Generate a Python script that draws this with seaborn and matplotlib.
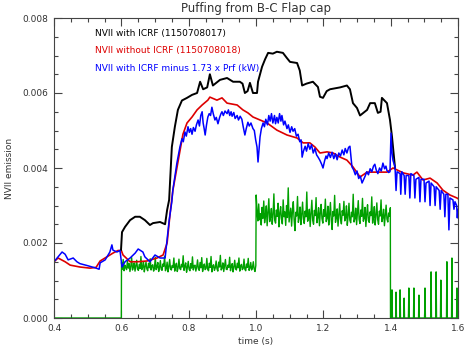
import numpy as np
import pandas as pd
import matplotlib
matplotlib.use("Agg")
import matplotlib.pyplot as plt
import seaborn as sns
from matplotlib.ticker import MultipleLocator, FormatStrFormatter

# ---------------- data ----------------
black_pts = [(0.599, 0.00181), (0.602, 0.00229), (0.611, 0.00243), (0.626, 0.00261),
             (0.641, 0.00270), (0.655, 0.00270), (0.670, 0.00261), (0.685, 0.00248),
             (0.694, 0.00253), (0.715, 0.00256), (0.730, 0.00250), (0.736, 0.00288),
             (0.742, 0.00315), (0.750, 0.00456), (0.759, 0.00510), (0.768, 0.00555),
             (0.780, 0.00580), (0.795, 0.00587), (0.810, 0.00595), (0.825, 0.00600),
             (0.834, 0.00630), (0.843, 0.00610), (0.855, 0.00615), (0.863, 0.00650),
             (0.872, 0.00620), (0.893, 0.00635), (0.914, 0.00640), (0.932, 0.00630),
             (0.952, 0.00630), (0.960, 0.00625), (0.967, 0.00600), (0.975, 0.00605),
             (0.982, 0.00627), (0.991, 0.00600), (1.003, 0.00600), (1.006, 0.00630),
             (1.018, 0.00670), (1.027, 0.00690), (1.036, 0.00707), (1.050, 0.00705),
             (1.062, 0.00710), (1.080, 0.00707), (1.092, 0.00693), (1.101, 0.00683),
             (1.122, 0.00680), (1.130, 0.00660), (1.137, 0.00620), (1.150, 0.00625),
             (1.169, 0.00630), (1.184, 0.00616), (1.190, 0.00590), (1.199, 0.00587),
             (1.210, 0.00605), (1.220, 0.00610), (1.250, 0.00615), (1.270, 0.00620),
             (1.279, 0.00610), (1.288, 0.00573), (1.300, 0.00560), (1.309, 0.00540),
             (1.330, 0.00555), (1.339, 0.00573), (1.353, 0.00573), (1.362, 0.00547),
             (1.370, 0.00550), (1.374, 0.00587), (1.389, 0.00573), (1.398, 0.00528),
             (1.404, 0.00483), (1.413, 0.00400)]

red_pts = [(0.400, 0.00150), (0.412, 0.00160), (0.433, 0.00150), (0.448, 0.00141),
           (0.477, 0.00136), (0.507, 0.00133), (0.525, 0.00135), (0.537, 0.00152),
           (0.557, 0.00163), (0.575, 0.00173), (0.590, 0.00180), (0.600, 0.00180),
           (0.605, 0.00168), (0.626, 0.00150), (0.647, 0.00150), (0.676, 0.00152),
           (0.706, 0.00160), (0.724, 0.00168), (0.736, 0.00200), (0.745, 0.00280),
           (0.753, 0.00340), (0.765, 0.00400), (0.774, 0.00445), (0.783, 0.00490),
           (0.795, 0.00520), (0.810, 0.00536), (0.825, 0.00555), (0.840, 0.00568),
           (0.857, 0.00581), (0.863, 0.00589), (0.884, 0.00581), (0.899, 0.00587),
           (0.914, 0.00573), (0.944, 0.00568), (0.961, 0.00555), (0.976, 0.00547),
           (0.991, 0.00536), (1.012, 0.00528), (1.033, 0.00520), (1.062, 0.00501),
           (1.092, 0.00488), (1.122, 0.00480), (1.140, 0.00467), (1.160, 0.00467),
           (1.175, 0.00456), (1.190, 0.00440), (1.211, 0.00443), (1.229, 0.00440),
           (1.250, 0.00429), (1.270, 0.00421), (1.288, 0.00403), (1.309, 0.00376),
           (1.330, 0.00389), (1.359, 0.00389), (1.389, 0.00389), (1.407, 0.00400),
           (1.437, 0.00387), (1.466, 0.00381), (1.478, 0.00389), (1.496, 0.00368),
           (1.517, 0.00373), (1.538, 0.00360), (1.555, 0.00341), (1.576, 0.00328),
           (1.597, 0.00320), (1.600, 0.00318)]

blue_pts = [(0.400, 0.00150), (0.412, 0.00163), (0.424, 0.00176), (0.433, 0.00170),
            (0.442, 0.00155), (0.457, 0.00160), (0.468, 0.00150), (0.477, 0.00145),
            (0.498, 0.00140), (0.513, 0.00136), (0.525, 0.00133), (0.534, 0.00130),
            (0.537, 0.00147), (0.552, 0.00155), (0.566, 0.00176), (0.572, 0.00195),
            (0.575, 0.00181), (0.587, 0.00176), (0.596, 0.00180), (0.602, 0.00136),
            (0.611, 0.00150), (0.626, 0.00160), (0.641, 0.00173), (0.650, 0.00184),
            (0.664, 0.00176), (0.670, 0.00163), (0.685, 0.00150), (0.700, 0.00168),
            (0.715, 0.00160), (0.730, 0.00160), (0.736, 0.00210), (0.742, 0.00260),
            (0.750, 0.00310), (0.753, 0.00341), (0.765, 0.00413), (0.774, 0.00456),
            (0.780, 0.00478), (0.784, 0.00470), (0.789, 0.00496), (0.793, 0.00485),
            (0.798, 0.00510), (0.802, 0.00495), (0.806, 0.00505), (0.810, 0.00490),
            (0.814, 0.00508), (0.819, 0.00498), (0.823, 0.00515), (0.828, 0.00528),
            (0.832, 0.00512), (0.836, 0.00540), (0.840, 0.00550), (0.843, 0.00520),
            (0.846, 0.00505), (0.849, 0.00488), (0.853, 0.00515), (0.857, 0.00536),
            (0.861, 0.00545), (0.865, 0.00540), (0.869, 0.00562), (0.873, 0.00545),
            (0.878, 0.00528), (0.882, 0.00535), (0.887, 0.00518), (0.892, 0.00535),
            (0.896, 0.00545), (0.899, 0.00550), (0.903, 0.00540), (0.908, 0.00552),
            (0.914, 0.00545), (0.918, 0.00555), (0.922, 0.00540), (0.926, 0.00550),
            (0.929, 0.00538), (0.934, 0.00548), (0.938, 0.00532), (0.944, 0.00540),
            (0.948, 0.00528), (0.953, 0.00538), (0.958, 0.00530), (0.962, 0.00510),
            (0.967, 0.00488), (0.971, 0.00505), (0.976, 0.00522), (0.980, 0.00512),
            (0.985, 0.00520), (0.991, 0.00505), (0.995, 0.00500), (0.999, 0.00475),
            (1.003, 0.00456), (1.006, 0.00416), (1.009, 0.00450), (1.012, 0.00483),
            (1.016, 0.00505), (1.021, 0.00520), (1.025, 0.00510), (1.029, 0.00530),
            (1.034, 0.00515), (1.038, 0.00540), (1.042, 0.00525), (1.046, 0.00545),
            (1.050, 0.00520), (1.055, 0.00540), (1.058, 0.00518), (1.062, 0.00535),
            (1.066, 0.00520), (1.070, 0.00545), (1.074, 0.00525), (1.077, 0.00540),
            (1.082, 0.00515), (1.086, 0.00525), (1.092, 0.00505), (1.096, 0.00515),
            (1.101, 0.00495), (1.106, 0.00510), (1.110, 0.00498), (1.115, 0.00505),
            (1.120, 0.00485), (1.125, 0.00490), (1.130, 0.00470), (1.134, 0.00475),
            (1.137, 0.00429), (1.141, 0.00445), (1.146, 0.00458), (1.150, 0.00445),
            (1.155, 0.00465), (1.160, 0.00450), (1.165, 0.00462), (1.170, 0.00440),
            (1.175, 0.00452), (1.180, 0.00435), (1.185, 0.00428), (1.190, 0.00420),
            (1.195, 0.00410), (1.199, 0.00400), (1.204, 0.00420), (1.208, 0.00432),
            (1.211, 0.00425), (1.216, 0.00440), (1.221, 0.00428), (1.226, 0.00442),
            (1.231, 0.00425), (1.236, 0.00438), (1.241, 0.00422), (1.246, 0.00440),
            (1.251, 0.00432), (1.256, 0.00448), (1.261, 0.00435), (1.265, 0.00452),
            (1.270, 0.00440), (1.275, 0.00455), (1.279, 0.00458), (1.282, 0.00430),
            (1.285, 0.00403), (1.290, 0.00395), (1.295, 0.00382), (1.300, 0.00392),
            (1.305, 0.00372), (1.310, 0.00378), (1.315, 0.00360), (1.319, 0.00368),
            (1.324, 0.00378), (1.329, 0.00390), (1.334, 0.00382), (1.339, 0.00398),
            (1.344, 0.00390), (1.349, 0.00405), (1.353, 0.00410), (1.357, 0.00395),
            (1.362, 0.00385), (1.367, 0.00400), (1.372, 0.00392), (1.377, 0.00413),
            (1.382, 0.00398), (1.386, 0.00405), (1.389, 0.00393), (1.394, 0.00388),
            (1.398, 0.00390), (1.401, 0.00493), (1.404, 0.00440), (1.407, 0.00420),
            (1.413, 0.00403), (1.416, 0.00340), (1.419, 0.00390), (1.428, 0.00385),
            (1.430, 0.00330), (1.433, 0.00390), (1.440, 0.00380), (1.443, 0.00330),
            (1.446, 0.00380), (1.454, 0.00380), (1.457, 0.00320), (1.460, 0.00385),
            (1.469, 0.00380), (1.472, 0.00320), (1.475, 0.00370), (1.484, 0.00375),
            (1.487, 0.00310), (1.490, 0.00370), (1.499, 0.00370), (1.502, 0.00310),
            (1.505, 0.00360), (1.514, 0.00365), (1.517, 0.00300), (1.520, 0.00360),
            (1.529, 0.00350), (1.532, 0.00300), (1.535, 0.00350), (1.544, 0.00340),
            (1.547, 0.00290), (1.550, 0.00340), (1.558, 0.00330), (1.561, 0.00270),
            (1.564, 0.00330), (1.570, 0.00330), (1.573, 0.00235), (1.576, 0.00320),
            (1.585, 0.00315), (1.588, 0.00290), (1.591, 0.00310), (1.596, 0.00300),
            (1.598, 0.00267), (1.600, 0.00290)]

# green (Prf), units of 1e-4: plateau 0.6-1.0 and plateau 1.0-1.4
green_step1 = [
    14.8, 13.0, 15.6, 12.6, 14.1, 13.4, 12.9, 15.2, 13.3, 14.5, 12.4, 13.8, 16.1, 12.8, 13.5, 14.7, 12.5, 13.9, 15.4, 13.0,
    12.7, 14.3, 13.2, 16.4, 12.9, 13.6, 15.0, 12.3, 13.7, 14.9, 13.1, 12.6, 14.6, 13.4, 15.8, 12.8, 13.9, 14.2, 12.5, 13.3,
    16.2, 12.9, 13.6, 14.8, 12.4, 13.5, 15.3, 13.0, 12.7, 14.4, 13.8, 16.5, 12.6, 13.2, 14.9, 12.3, 13.7, 15.6, 13.1, 12.8,
    14.0, 13.5, 16.0, 12.5, 13.9, 14.6, 12.4, 13.4, 15.7, 13.2, 12.9, 14.3, 13.6, 16.6, 12.7, 13.8, 14.7, 12.2, 13.5, 15.1,
    13.0, 12.6, 14.5, 13.3, 16.3, 12.8, 13.9, 14.1, 12.5, 13.6, 15.5, 13.1, 12.7, 14.8, 13.4, 16.1, 12.4, 13.7, 14.4, 12.9,
    13.2, 15.9, 13.0, 12.6, 14.6, 13.5, 16.4, 12.3, 13.8, 14.2, 12.7, 13.4, 15.2, 13.1, 12.5, 14.9, 13.6, 16.7, 12.8, 13.3,
    14.7, 12.4, 13.9, 15.6, 13.0, 12.9, 14.1, 13.5, 16.2, 12.6, 13.7, 14.5, 12.3, 13.6, 15.4, 13.2, 12.8, 14.6, 13.4, 16.0,
    12.5, 13.8, 14.3, 12.9, 13.2, 15.7, 13.0, 12.6, 14.4, 13.5, 15.9, 12.7, 13.3, 14.8, 12.8, 13.4, 15.0, 13.1, 12.4, 14.0]
green_step2 = [
    32.8, 28.6, 25.9, 30.4, 26.2, 27.8, 24.8, 29.5, 26.6, 31.2, 25.4, 27.3, 29.9, 24.6, 28.1, 31.8, 25.7, 26.9, 29.2, 25.0,
    27.6, 33.1, 26.0, 25.3, 28.8, 27.1, 30.6, 24.3, 27.9, 29.7, 26.4, 25.1, 31.5, 27.0, 28.3, 24.7, 30.0, 26.8, 34.7, 25.6,
    27.4, 29.3, 24.5, 28.6, 31.0, 26.1, 23.3, 28.2, 27.2, 32.4, 25.5, 26.7, 29.6, 24.9, 27.7, 30.9, 26.3, 25.2, 28.5, 27.0,
    33.6, 25.8, 26.5, 29.0, 24.4, 27.8, 31.4, 26.0, 25.0, 28.7, 27.3, 32.1, 25.4, 26.9, 29.4, 24.6, 28.0, 30.3, 26.5, 25.3,
    28.9, 27.1, 31.7, 25.7, 26.6, 29.8, 24.8, 27.5, 30.8, 26.2, 23.6, 28.4, 27.2, 32.7, 25.5, 26.8, 29.1, 24.5, 27.6, 30.5,
    26.4, 25.1, 28.6, 27.4, 31.1, 25.9, 26.7, 29.9, 24.7, 27.3, 30.6, 26.1, 25.4, 28.2, 27.0, 33.0, 25.6, 26.5, 29.3, 24.9,
    27.9, 31.3, 26.3, 25.2, 28.8, 27.1, 31.9, 25.8, 26.6, 29.5, 24.4, 27.7, 30.2, 26.0, 25.5, 28.3, 27.3, 32.3, 25.3, 26.9,
    29.7, 24.8, 27.4, 30.7, 26.2, 25.0, 28.5, 27.2, 31.5, 25.7, 26.8, 29.0, 24.6, 27.5, 30.1, 26.4, 25.6, 28.0, 27.1, 29.4]
green_scale = 1e-4
spike_t = [1.404, 1.416, 1.428, 1.440, 1.454, 1.469, 1.484, 1.502, 1.520, 1.535, 1.549,
           1.567, 1.582, 1.597]
spike_v = [0.00075, 0.00069, 0.00075, 0.00053, 0.00080, 0.00080, 0.00061, 0.00080, 0.00123,
           0.00123, 0.00101, 0.00150, 0.00160, 0.00080]

title = "Puffing from B-C Flap cap"
xlabel = "time (s)"
ylabel = "NVII emission"
legend_labels = ["NVII with ICRF (1150708017)",
                 "NVII without ICRF (1150708018)",
                 "NVII with ICRF minus 1.73 x Prf (kW)"]

black_t, black_v = zip(*black_pts)
red_t, red_v = zip(*red_pts)
blue_t, blue_v = zip(*blue_pts)

# ---------------- build green series ----------------
g_t = [0.400, 0.600]
g_v = [0.0, 0.0]
g_t += list(np.linspace(0.6005, 0.9995, len(green_step1)))
g_v += [v * green_scale for v in green_step1]
g_t += list(np.linspace(1.0005, 1.3990, len(green_step2)))
g_v += [v * green_scale for v in green_step2]
g_t += [1.3995]
g_v += [0.0]
for st, sv in zip(spike_t, spike_v):
    g_t += [st - 0.0012, st, st + 0.0012]
    g_v += [0.0, sv, 0.0]

# ---------------- plot ----------------
sns.set_theme(style="white")
plt.rcParams['font.family'] = ['DejaVu Sans']
fig = plt.figure(figsize=(4.74, 3.55), dpi=100)
ax = fig.add_axes([54/474, 1 - 318/355, 404/474, 300/355])

RED = "#dd0000"
BLUE = "#0000ff"
GREEN = "#00a000"

sns.lineplot(x=g_t, y=g_v, ax=ax, color=GREEN, lw=1.0, sort=False, estimator=None)
sns.lineplot(x=list(red_t), y=list(red_v), ax=ax, color=RED, lw=1.2, sort=False, estimator=None)
sns.lineplot(x=list(black_t), y=list(black_v), ax=ax, color="black", lw=1.4, sort=False,
             estimator=None)
sns.lineplot(x=list(blue_t), y=list(blue_v), ax=ax, color=BLUE, lw=1.1, sort=False,
             estimator=None)

ax.set_xlim(0.4, 1.6)
ax.set_ylim(0.0, 0.008)
ax.xaxis.set_major_locator(MultipleLocator(0.2))
ax.xaxis.set_minor_locator(MultipleLocator(0.05))
ax.yaxis.set_major_locator(MultipleLocator(0.002))
ax.yaxis.set_minor_locator(MultipleLocator(0.0005))
ax.xaxis.set_major_formatter(FormatStrFormatter("%.1f"))
ax.yaxis.set_major_formatter(FormatStrFormatter("%.3f"))
ax.tick_params(which="both", direction="in", top=True, right=True, bottom=True, left=True,
               color="#444444", width=0.8, labelsize=6.5, labelcolor="#333333", pad=4)
ax.tick_params(which="major", length=6)
ax.tick_params(which="minor", length=3)
for s in ax.spines.values():
    s.set_color("#444444")
    s.set_linewidth(0.8)

ax.set_title(title, fontsize=8.5, color="#333333", pad=4)
ax.set_xlabel(xlabel, fontsize=6.5, color="#333333", labelpad=3)
ax.set_ylabel(ylabel, fontsize=6.5, color="#333333", labelpad=6)

for lbl, col, yy in zip(legend_labels, ["black", RED, BLUE], [0.948, 0.890, 0.830]):
    ax.text(0.101, yy, lbl, transform=ax.transAxes, color=col, fontsize=6.5,
            va="center", ha="left")

fig.savefig("out.png", dpi=100)
